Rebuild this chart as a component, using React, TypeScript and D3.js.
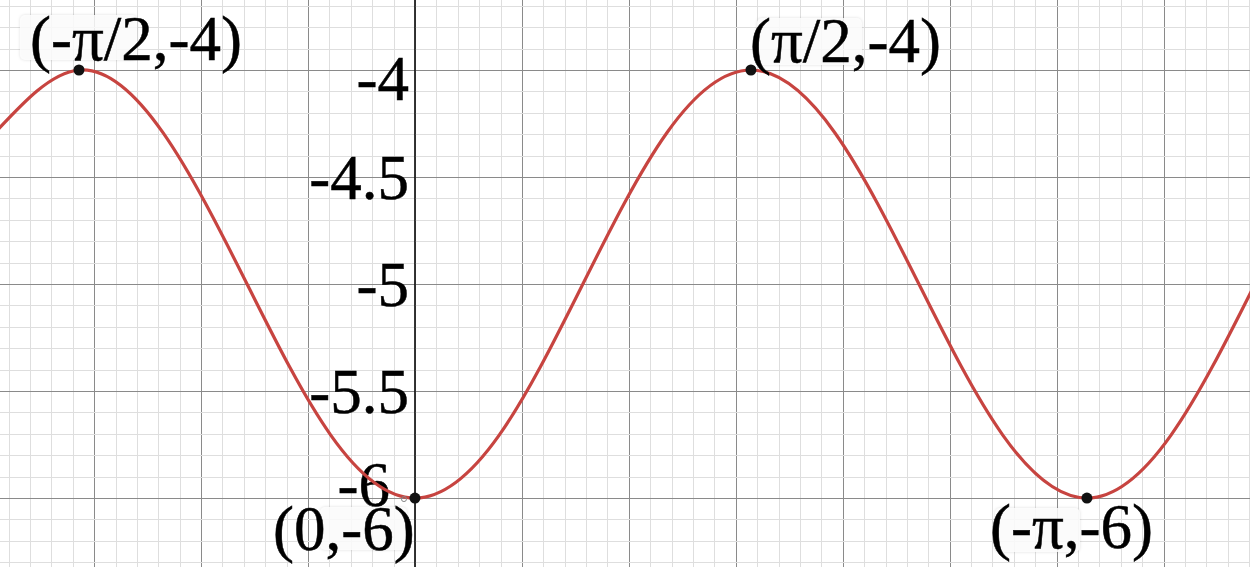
import React, { useEffect, useRef } from 'react';
import * as d3 from 'd3';

const WIDTH = 1250;
const HEIGHT = 567;

// curve samples (x in radians, step pi/8)
const xValues = [-1.963, -1.571, -1.178, -0.785, -0.393, 0, 0.393, 0.785, 1.178, 1.571, 1.963, 2.356, 2.749, 3.142, 3.534, 3.927];
const yValues = [-4.293, -4, -4.293, -5, -5.707, -6, -5.707, -5, -4.293, -4, -4.293, -5, -5.707, -6, -5.707, -5];

const yTicks = [-4, -4.5, -5, -5.5, -6];
const yTickLabels = ['-4', '-4.5', '-5', '-5.5', '-6'];

const pointX = [-Math.PI / 2, Math.PI / 2, 0, Math.PI];
const pointY = [-4, -4, -6, -6];
const pointLabels = ['(-π/2,-4)', '(π/2,-4)', '(0,-6)', '(-π,-6)'];

// label placement relative to the point: text origin and backing box
const labelPos = [
  { dx: -49, dy: -10, bx: -59, by: -55, bw: 117, bh: 45 },
  { dx: -1, dy: -8, bx: 6, by: -52, bw: 105, bh: 47 },
  { dx: -142, dy: 52, bx: -95, by: 9, bw: 87, bh: 43 },
  { dx: -97, dy: 50, bx: -92, by: 10, bw: 85, bh: 44 },
];

const App = () => {
  const ref = useRef<SVGSVGElement>(null);

  useEffect(() => {
    if (!ref.current) return;
    const svg = d3.select(ref.current);
    svg.selectAll('*').remove();

    const x = d3.scaleLinear().domain([-1.94, 3.904]).range([0, WIDTH]);
    const y = d3.scaleLinear().domain([-6.322, -3.673]).range([HEIGHT, 0]);

    svg.append('rect').attr('width', WIDTH).attr('height', HEIGHT).attr('fill', '#fff');

    // grid: minor every 0.1, major every 0.5
    const grid = svg.append('g');
    const xi = d3.range(Math.ceil(-1.94 * 10), Math.floor(3.904 * 10) + 1);
    const yi = d3.range(Math.ceil(-6.322 * 10), Math.floor(-3.673 * 10) + 1);

    grid.selectAll('line.vx')
      .data(xi)
      .enter()
      .append('line')
      .attr('x1', (d) => Math.round(x(d / 10)) + 0.5)
      .attr('x2', (d) => Math.round(x(d / 10)) + 0.5)
      .attr('y1', 0)
      .attr('y2', HEIGHT)
      .attr('stroke', (d) => (d % 5 === 0 ? '#8a8a8a' : '#dedede'))
      .attr('stroke-width', 1);

    grid.selectAll('line.hy')
      .data(yi)
      .enter()
      .append('line')
      .attr('y1', (d) => Math.round(y(d / 10)) + 0.5)
      .attr('y2', (d) => Math.round(y(d / 10)) + 0.5)
      .attr('x1', 0)
      .attr('x2', WIDTH)
      .attr('stroke', (d) => (d % 5 === 0 ? '#8a8a8a' : '#dedede'))
      .attr('stroke-width', 1);

    // y axis
    svg.append('line')
      .attr('x1', x(0))
      .attr('x2', x(0))
      .attr('y1', 0)
      .attr('y2', HEIGHT)
      .attr('stroke', '#111')
      .attr('stroke-width', 1.6);

    // tick labels
    const nudge = (v: number) => (v === -4 ? 30 : v === -6 ? 8 : 22);
    svg.selectAll('text.tick')
      .data(yTicks)
      .enter()
      .append('text')
      .attr('x', (d) => x(0) - (d === -6 ? 25 : 6))
      .attr('y', (d) => y(d) + nudge(d))
      .attr('text-anchor', 'end')
      .style('font-family', 'Liberation Serif')
      .style('font-size', '63px')
      .attr('fill', '#000')
      .attr('stroke', '#000')
      .attr('stroke-width', 0.5)
      .text((_, i) => yTickLabels[i]);

    // curve
    const line = d3.line<number>()
      .x((d) => x(d))
      .y((_, i) => y(yValues[i]))
      .curve(d3.curveNatural);

    svg.append('path')
      .datum(xValues)
      .attr('d', line)
      .attr('fill', 'none')
      .attr('stroke', '#c74440')
      .attr('stroke-width', 3.2);

    // small open marker next to the origin-point
    svg.append('circle')
      .attr('cx', x(0) - 11)
      .attr('cy', y(-6) + 1)
      .attr('r', 2.5)
      .attr('fill', 'none')
      .attr('stroke', '#888')
      .attr('stroke-width', 1);

    // labelled points
    const pts = svg.selectAll('g.pt')
      .data(pointX)
      .enter()
      .append('g')
      .attr('transform', (d, i) => `translate(${x(d)},${y(pointY[i])})`);

    pts.append('rect')
      .attr('x', (_, i) => labelPos[i].bx)
      .attr('y', (_, i) => labelPos[i].by)
      .attr('width', (_, i) => labelPos[i].bw)
      .attr('height', (_, i) => labelPos[i].bh)
      .attr('rx', 5)
      .attr('fill', '#fff')
      .attr('fill-opacity', 0.85)
      .style('filter', 'drop-shadow(0px 0px 1.5px rgba(0,0,0,0.15))');

    pts.append('circle')
      .attr('r', 5.5)
      .attr('fill', '#111');

    pts.append('text')
      .attr('x', (_, i) => labelPos[i].dx)
      .attr('y', (_, i) => labelPos[i].dy)
      .style('font-family', 'Liberation Serif')
      .style('font-size', '63px')
      .attr('fill', '#000')
      .attr('stroke', '#000')
      .attr('stroke-width', 0.5)
      .text((_, i) => pointLabels[i]);
  }, []);

  return (
    <svg
      ref={ref}
      width={WIDTH}
      height={HEIGHT}
      style={{ position: 'absolute', left: 0, top: 0, display: 'block' }}
    />
  );
};

export default App;
